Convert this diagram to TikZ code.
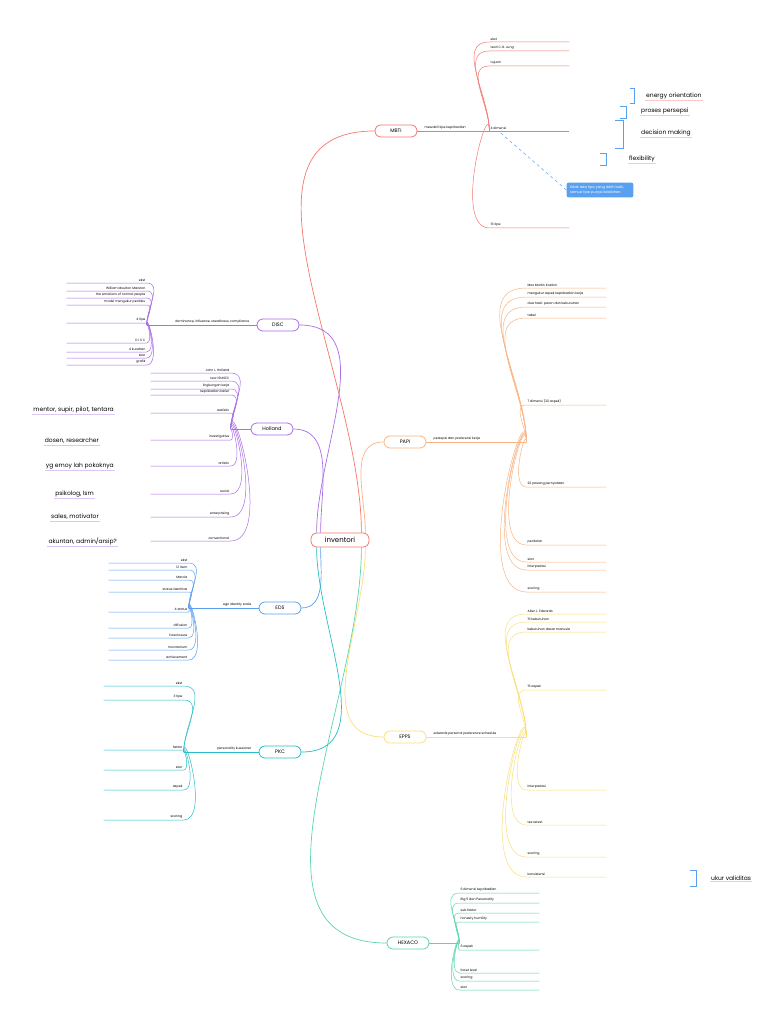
\documentclass[tikz,border=0pt]{standalone}
\usepackage{fontspec}
\setmainfont{Poppins}
\begin{document}
\begin{tikzpicture}[x=1pt,y=-1pt,
  main/.style={draw=#1,line width=0.8pt,rounded corners=6pt,fill=white,minimum width=42pt,minimum height=12pt,inner sep=1pt,font=\fontsize{5}{6}\selectfont},
  lf/.style={font=\fontsize{3.2}{4}\selectfont,inner sep=1pt},
  big/.style={font=\fontsize{6}{7}\selectfont,inner sep=1pt},
  conn/.style={line width=0.7pt,draw=#1}]
\useasboundingbox (0,0) rectangle (768,1024);
\fill[white] (0,0) rectangle (768,1024);
\definecolor{cR}{RGB}{245,120,110}
\definecolor{cP}{RGB}{170,110,230}
\definecolor{cB}{RGB}{90,160,240}
\definecolor{cC}{RGB}{40,190,200}
\definecolor{cO}{RGB}{250,180,130}
\definecolor{cY}{RGB}{250,225,120}
\definecolor{cG}{RGB}{90,215,170}

\node[main=cR,minimum width=58pt,minimum height=14pt,font=\fontsize{7}{8}\selectfont] (c) at (340,540) {inventori};
\node[main=cR] (mbti) at (396,131) {MBTI};
\node[main=cP] (disc) at (278,325) {DISC};
\node[main=cP] (hol) at (272,429) {Holland};
\node[main=cB] (eds) at (280,608) {EDS};
\node[main=cC] (pkc) at (280,752) {PKC};
\node[main=cO] (papi) at (405,442) {PAPI};
\node[main=cY] (epps) at (405,737) {EPPS};
\node[main=cG] (hex) at (408,943) {HEXACO};

\draw[conn=cR] (c.north east) ++(-8,0) to[out=90,in=180] (mbti.west);
\draw[conn=cO] (c.north east) ++(-4,0) to[out=90,in=180] (papi.west);
\draw[conn=cY] (c.south east) ++(-4,0) to[out=-90,in=180] (epps.west);
\draw[conn=cG] (c.south east) ++(-8,0) to[out=-90,in=180] (hex.west);
\draw[conn=cP] (c.north west) ++(6,0) to[out=90,in=0] (disc.east);
\draw[conn=cP] (c.north west) ++(10,0) to[out=90,in=0] (hol.east);
\draw[conn=cB] (c.south west) ++(10,0) to[out=-90,in=0] (eds.east);
\draw[conn=cC] (c.south west) ++(6,0) to[out=-90,in=0] (pkc.east);

\newcommand\rbranch[5]{%
  \node[lf,anchor=south west] (#1d) at ([xshift=6pt]#1.east) {#2};
  \draw[conn=#5] (#1.east) -- ([xshift=#3pt]#1.east) coordinate (#1t);
  \foreach \yy/\tx [count=\i] in {#4} {
    \node[lf,anchor=south west] (#1l\i) at ([xshift=#3pt]#1.east |- 0,\yy) {\tx};
    \draw[#5,line width=0.5pt] (#1t) to[out=90,in=180] (#1l\i.south west) -- ([xshift=80pt]#1l\i.south west);
  }}
\newcommand\lbranch[5]{%
  \node[lf,anchor=south east] (#1d) at ([xshift=-6pt]#1.west) {#2};
  \draw[conn=#5] (#1.west) -- ([xshift=-#3pt]#1.west) coordinate (#1t);
  \foreach \yy/\tx [count=\i] in {#4} {
    \node[lf,anchor=south east] (#1l\i) at ([xshift=-#3pt]#1.west |- 0,\yy) {\tx};
    \draw[#5,line width=0.5pt] (#1t) to[out=90,in=0] (#1l\i.south east) -- ([xshift=-80pt]#1l\i.south east);
  }}

\rbranch{mbti}{mewakili tipe kepribadian}{72}{42/ekst,51/teori C.G. Jung,66/tujuan,131/4 dimensi,228/16 tipe}{cR}
\rbranch{papi}{persepsi dan preferensi kerja}{100}{288/Max Martin Kostick,297/mengukur aspek kepribadian kerja,307/dua hasil: peran dan kebutuhan,318/tabel,405/7 dimensi (20 aspek),487/20 pasang pernyataan,545/penilaian,562/skor,570/interpretasi,592/scoring}{cO}
\rbranch{epps}{edwards personal preference schedule}{100}{614/Allen L. Edwards,622/15 kebutuhan,632/kebutuhan dasar manusia,690/15 aspek,790/interpretasi,825/tes retest,857/scoring,877/konsistensi}{cY}
\rbranch{hex}{}{30}{893/6 dimensi kepribadian,903/Big 5 dan Personality,913/sub faktor,922/honesty humility,950/6 aspek,973/facet level,981/scoring,990/skor}{cG}

\lbranch{disc}{dominance, influence, steadiness, compliance}{110}{283/ekst,291/William Moulton Marston,298/the emotions of normal people,305/model mengukur perilaku,323/4 tipe,343/D I S C,352/4 kuadran,358/skor,365/grafik}{cP}
\lbranch{hol}{}{20}{373/John L. Holland,381/teori RIASEC,389/lingkungan kerja,395/kepribadian karier,413/realistic,440/investigative,466/artistic,494/social,517/enterprising,541/conventional}{cP}
\lbranch{eds}{ego identity scale}{70}{563/ekst,570/12 item,580/Marcia,592/status identitas,612/4 status,628/diffusion,638/foreclosure,650/moratorium,660/achievement}{cB}
\lbranch{pkc}{personality kuesioner}{75}{686/ekst,700/3 tipe,750/faktor,770/skor,790/aspek,820/scoring}{cC}

\node[big,anchor=west] (a1) at (645,96) {energy orientation};
\node[big,anchor=west] (a2) at (640,111) {proses persepsi};
\node[big,anchor=west] (a3) at (640,133) {decision making};
\node[big,anchor=west] (a4) at (628,159) {flexibility};
\node[big,anchor=west] (a5) at (710,878) {ukur validitas};
\foreach \n in {a1,a2,a3,a4,a5}{\draw[cR!40,line width=0.5pt] (\n.south west)--(\n.south east);}
\draw[cB,line width=0.6pt] (630,88) -- (634,88) -- (634,103) -- (630,103);
\draw[cB,line width=0.6pt] (620,106) -- (626,106) -- (626,118) -- (620,118);
\draw[cB,line width=0.6pt] (615,120) -- (623,120) -- (623,148) -- (615,148);
\draw[cB,line width=0.6pt] (600,153) -- (606,153) -- (606,165) -- (600,165);
\draw[cB,line width=0.6pt] (690,870) -- (696,870) -- (696,886) -- (690,886);
\node[fill=cB,text=white,rounded corners=2pt,font=\fontsize{3.5}{4.5}\selectfont,align=left,text width=60pt] (call) at (600,190) {tidak ada tipe yang lebih baik,\\ semua tipe punya kelebihan};
\draw[cB,dashed,line width=0.5pt] (call.west) -- (mbtil4.south);
\node[big,anchor=east] (h1) at (115,410) {mentor, supir, pilot, tentara};
\node[big,anchor=east] (h2) at (100,441) {dosen, researcher};
\node[big,anchor=east] (h3) at (115,466) {yg emoy lah pokoknya};
\node[big,anchor=east] (h4) at (95,494) {psikolog, lsm};
\node[big,anchor=east] (h5) at (100,517) {sales, motivator};
\node[big,anchor=east] (h6) at (118,541) {akuntan, admin/arsip?};
\foreach \n in {h1,h2,h3,h4,h5,h6}{\draw[cP!40,line width=0.5pt] (\n.south west)--(\n.south east);}
\end{tikzpicture}
\end{document}
